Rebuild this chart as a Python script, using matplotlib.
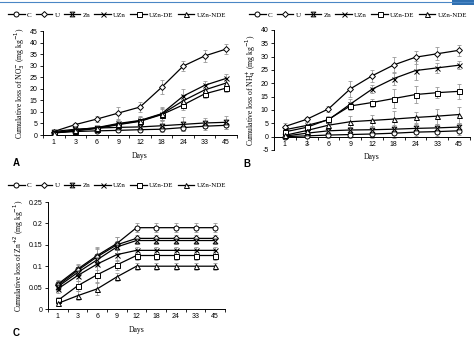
import numpy as np
import matplotlib.pyplot as plt
from matplotlib.lines import Line2D
from matplotlib.patches import Rectangle
from matplotlib.path import Path

# Sampling days (category axis)
days = ['1', '3', '6', '9', '12', '18', '24', '33', '45']
treatments = ['C', 'U', 'Zn', 'UZn', 'UZn-DE', 'UZn-NDE']

# A: cumulative NO3- loss (mg/kg)
no3 = {
    'C':       [1.0, 1.5, 1.8, 2.0, 2.3, 2.5, 3.2, 3.8, 4.2],
    'U':       [1.5, 4.5, 6.9, 9.5, 12.1, 20.6, 29.8, 34.2, 37.2],
    'Zn':      [1.5, 2.5, 3.0, 3.3, 3.5, 4.0, 4.6, 5.2, 5.5],
    'UZn':     [1.0, 2.2, 3.2, 5.0, 6.3, 9.2, 16.8, 21.5, 24.5],
    'UZn-DE':  [0.8, 1.8, 2.8, 4.5, 5.9, 8.8, 13.0, 17.8, 20.3],
    'UZn-NDE': [0.9, 2.0, 3.0, 4.7, 6.1, 9.0, 14.8, 19.5, 22.5],
}
no3_err = {
    'C':       [0.4, 0.5, 0.6, 0.8, 1.0, 1.2, 1.5, 1.6, 1.8],
    'U':       [0.8, 0.9, 1.2, 2.6, 2.0, 3.0, 2.3, 2.5, 2.0],
    'Zn':      [0.4, 0.5, 0.8, 1.0, 1.5, 2.0, 3.0, 2.0, 2.8],
    'UZn':     [0.4, 0.6, 0.8, 1.5, 2.0, 2.8, 3.2, 2.0, 1.8],
    'UZn-DE':  [0.4, 0.6, 0.8, 1.2, 1.8, 2.5, 2.0, 2.0, 1.5],
    'UZn-NDE': [0.4, 0.6, 0.8, 1.2, 1.8, 2.5, 2.5, 2.0, 1.5],
}

# B: cumulative NH4+ loss (mg/kg)
nh4 = {
    'C':       [0.0, 0.3, 0.6, 0.8, 1.0, 1.3, 1.7, 1.9, 2.2],
    'U':       [3.8, 6.5, 10.4, 17.9, 22.8, 26.9, 29.8, 31.1, 32.4],
    'Zn':      [0.2, 1.3, 2.2, 2.5, 2.6, 2.8, 3.1, 3.3, 3.6],
    'UZn':     [2.6, 4.2, 6.3, 12.2, 17.8, 21.8, 24.8, 25.8, 26.8],
    'UZn-DE':  [1.8, 3.5, 6.5, 11.5, 12.8, 14.3, 15.8, 16.5, 17.0],
    'UZn-NDE': [0.5, 2.3, 4.3, 5.6, 6.1, 6.6, 7.2, 7.7, 8.3],
}
nh4_err = {
    'C':       [0.5, 3.0, 1.0, 1.2, 1.5, 1.8, 1.5, 1.5, 1.5],
    'U':       [1.2, 0.8, 1.2, 3.0, 2.2, 3.0, 2.4, 2.4, 2.0],
    'Zn':      [0.5, 1.5, 1.0, 1.2, 1.5, 1.5, 1.5, 1.5, 1.5],
    'UZn':     [0.8, 1.2, 1.0, 1.8, 1.5, 2.5, 3.5, 2.0, 1.5],
    'UZn-DE':  [0.8, 1.0, 1.2, 1.5, 1.5, 3.5, 3.2, 2.0, 2.8],
    'UZn-NDE': [0.5, 1.0, 1.2, 2.0, 2.0, 3.2, 2.2, 2.8, 3.0],
}

# C: cumulative Zn+2 loss (mg/kg)
zn = {
    'C':       [0.058, 0.093, 0.125, 0.153, 0.190, 0.190, 0.190, 0.190, 0.190],
    'U':       [0.055, 0.090, 0.122, 0.150, 0.165, 0.165, 0.165, 0.165, 0.165],
    'Zn':      [0.052, 0.085, 0.115, 0.145, 0.160, 0.160, 0.160, 0.160, 0.160],
    'UZn':     [0.047, 0.078, 0.105, 0.127, 0.137, 0.137, 0.137, 0.137, 0.137],
    'UZn-DE':  [0.020, 0.054, 0.080, 0.103, 0.125, 0.125, 0.125, 0.125, 0.125],
    'UZn-NDE': [0.013, 0.031, 0.047, 0.075, 0.100, 0.100, 0.100, 0.100, 0.100],
}
zn_err = {
    'C':       [0.010, 0.012, 0.020, 0.015, 0.010, 0.010, 0.010, 0.010, 0.010],
    'U':       [0.010, 0.012, 0.020, 0.018, 0.008, 0.008, 0.008, 0.008, 0.008],
    'Zn':      [0.010, 0.012, 0.025, 0.015, 0.008, 0.008, 0.008, 0.008, 0.008],
    'UZn':     [0.010, 0.012, 0.020, 0.015, 0.008, 0.008, 0.008, 0.008, 0.008],
    'UZn-DE':  [0.008, 0.012, 0.020, 0.012, 0.010, 0.010, 0.010, 0.010, 0.010],
    'UZn-NDE': [0.005, 0.010, 0.015, 0.010, 0.008, 0.008, 0.008, 0.008, 0.008],
}

# Hourglass outline for the Zn series
hourglass = Path([(-1, 1), (1, 1), (-1, -1), (1, -1), (-1, 1)],
                 [Path.MOVETO, Path.LINETO, Path.LINETO, Path.LINETO, Path.CLOSEPOLY])

markers = {'C': 'o', 'U': 'D', 'Zn': hourglass, 'UZn': 'x',
           'UZn-DE': 's', 'UZn-NDE': '^'}
msizes = {'C': 3.6, 'U': 3.0, 'Zn': 3.4, 'UZn': 3.6, 'UZn-DE': 3.6, 'UZn-NDE': 3.6}

SERIF = 'Liberation Serif'
SANS = 'Liberation Sans'


def drawPanel(ax, data, err, ylim, yticks, ylabel, letter, legend_x, legend_y,
              xaxis_at_zero=False):
    x = np.arange(len(days))

    # Spine placement first: moving a spine resets its ticks
    for side in ['top', 'right']:
        ax.spines[side].set_visible(False)
    for side in ['left', 'bottom']:
        ax.spines[side].set_linewidth(0.7)
    if xaxis_at_zero:
        ax.spines['bottom'].set_position(('data', 0))

    for t in treatments:
        ax.errorbar(x, data[t], yerr=err[t], fmt='none', ecolor='#999999',
                    elinewidth=0.6, capsize=1.5, capthick=0.6, zorder=1)
    for t in treatments:
        ax.plot(x, data[t], color='black', linewidth=0.9, marker=markers[t],
                markersize=msizes[t], markerfacecolor='white',
                markeredgecolor='black', markeredgewidth=0.7, zorder=3, label=t)

    ax.set_xlim(-0.5, len(days) - 0.5)
    ax.set_ylim(*ylim)
    ax.set_yticks(yticks)
    ax.set_yticklabels([f'{v:g}' for v in yticks], fontsize=5, family=SANS)
    ax.set_xticks(x)
    ax.set_xticklabels(days, fontsize=5, family=SANS)
    ax.set_xticks(np.arange(len(days) + 1) - 0.5, minor=True)
    ax.tick_params(axis='x', which='major', length=0, pad=3)
    ax.tick_params(axis='x', which='minor', length=2.5, width=0.6, direction='out')
    ax.tick_params(axis='y', length=2.5, width=0.6, direction='out', pad=1.5)

    ax.set_ylabel(ylabel, fontsize=5.5, family=SERIF, labelpad=2)
    ax.set_xlabel('Days', fontsize=5.5, family=SERIF, labelpad=4)
    ax.patch.set_visible(False)

    fig = ax.figure
    fig.text(legend_x[0], legend_y[1], letter, fontsize=7, family=SANS,
             fontweight='bold', ha='left', va='center')

    # Legend row above the axes
    ax.legend(loc='center', bbox_to_anchor=(legend_x[1], legend_y[0]),
              bbox_transform=fig.transFigure, ncol=6, frameon=False,
              prop={'family': SERIF, 'size': 5}, handlelength=2.4,
              handletextpad=0.3, columnspacing=0.6, borderaxespad=0)


fig = plt.figure(figsize=(4.74, 3.46), dpi=100)

axA = fig.add_axes([43 / 474, 1 - 135 / 346, 194 / 474, 104 / 346])
drawPanel(axA, no3, no3_err, (0, 45), np.arange(0, 46, 5),
          r'Cumulative loss of NO$_3^{-}$ (mg kg$^{-1}$)',
          'A', (13 / 474, 117 / 474), (1 - 15 / 346, 1 - 163 / 346))

axB = fig.add_axes([274 / 474, 1 - 150 / 346, 196 / 474, 120 / 346])
drawPanel(axB, nh4, nh4_err, (-5, 40), np.arange(-5, 41, 5),
          r'Cumulative loss of NH$_4^{+}$ (mg kg$^{-1}$)',
          'B', (243 / 474, 358 / 474), (1 - 15 / 346, 1 - 164 / 346),
          xaxis_at_zero=True)

axC = fig.add_axes([48 / 474, 1 - 309 / 346, 177 / 474, 107 / 346])
drawPanel(axC, zn, zn_err, (0, 0.25), np.arange(0, 0.251, 0.05),
          r'Cumulative loss of Zn$^{+2}$ (mg kg$^{-1}$)',
          'C', (13 / 474, 117 / 474), (1 - 185 / 346, 1 - 333 / 346))

# Page frame strip along the top edge
fig.add_artist(Line2D([0, 1], [1 - 2 / 346, 1 - 2 / 346], transform=fig.transFigure,
                      color='#4a86c5', linewidth=0.8))
fig.add_artist(Rectangle((452 / 474, 1 - 5 / 346), 22 / 474, 5 / 346,
                         transform=fig.transFigure, color='#2f6fb0', linewidth=0))

fig.savefig('out.png', dpi=100)
